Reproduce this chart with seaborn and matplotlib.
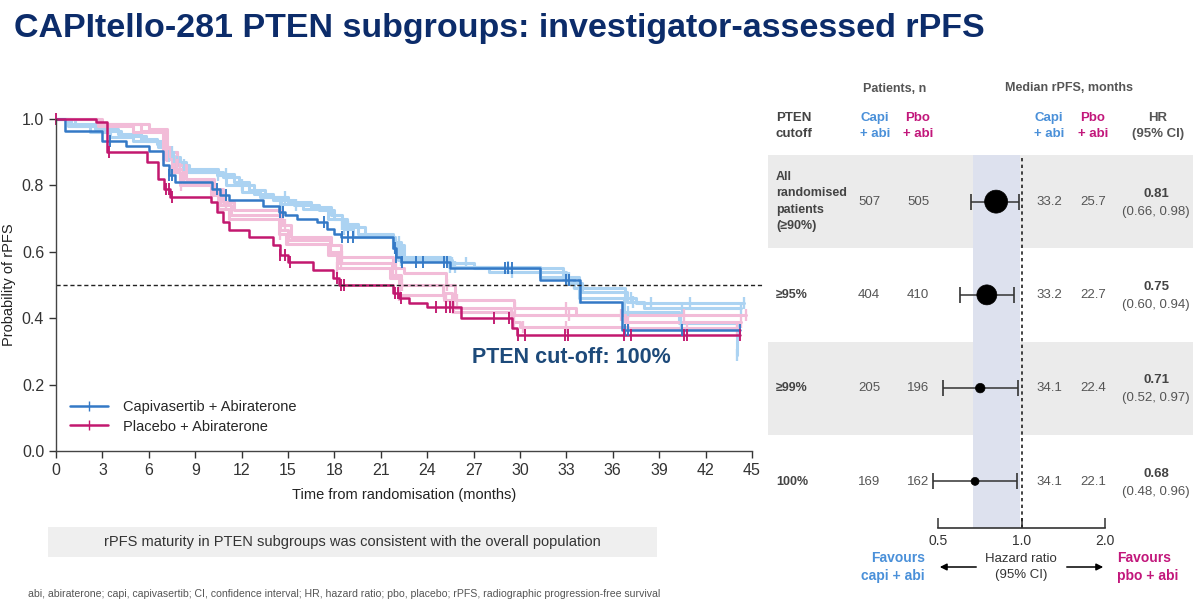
import numpy as np
import pandas as pd
import matplotlib
matplotlib.use("Agg")
import matplotlib.pyplot as plt
from matplotlib.lines import Line2D
from matplotlib.patches import Rectangle
import seaborn as sns

# ---------------- KM curves (step month, rPFS after step) ----------------
capi100_t = [0, 0.6, 3.0, 4.5, 6.0, 6.9, 7.3, 7.7, 10.1, 10.6, 11.2, 13.4, 14.4, 14.8, 15.6,
             16.9, 17.5, 18.0, 18.4, 21.8, 22.0, 22.3, 25.5, 31.3, 33.9, 36.6]
capi100_s = [1.0, 0.965, 0.935, 0.92, 0.905, 0.86, 0.83, 0.81, 0.79, 0.77, 0.755, 0.737, 0.72, 0.71, 0.70,
             0.69, 0.67, 0.655, 0.645, 0.61, 0.585, 0.57, 0.55, 0.515, 0.45, 0.365]
capi100_cens = [3.5, 7.3, 7.5, 10.4, 11.0, 14.5, 14.7, 17.3, 18.5, 18.9, 19.2, 21.9, 22.0, 22.4, 23.3,
                23.7, 25.1, 25.3, 29.0, 29.2, 29.5, 33.0, 33.2, 36.8, 37.0, 40.5, 44.2]

pbo100_t = [0, 2.6, 3.3, 5.9, 6.6, 7.0, 7.4, 10.0, 10.4, 10.8, 11.2, 12.5, 14.0, 14.5, 15.0,
            16.6, 17.9, 18.3, 21.8, 22.2, 22.8, 24.0, 26.2, 29.5, 29.8]
pbo100_s = [1.0, 0.99, 0.90, 0.87, 0.82, 0.79, 0.765, 0.75, 0.72, 0.69, 0.665, 0.645, 0.62, 0.59, 0.57,
            0.545, 0.52, 0.50, 0.475, 0.46, 0.445, 0.435, 0.40, 0.37, 0.35]
pbo100_cens = [0.0, 3.4, 7.1, 7.3, 7.5, 14.5, 14.8, 15.1, 18.2, 18.4, 18.6, 21.9, 22.1, 22.3, 24.6,
               25.2, 25.5, 25.7, 28.3, 29.3, 29.9, 30.3, 32.9, 33.1, 36.7, 37.2, 40.6, 40.8, 44.2]

capi90_t = [0, 1.0, 2.5, 4.0, 5.5, 6.5, 7.2, 7.8, 8.4, 10.5, 11.5, 12.5, 13.5, 15.0, 16.5,
            17.8, 18.5, 19.5, 21.8, 22.3, 25.5, 27.0, 32.8, 33.5, 36.8, 37.5]
capi90_s = [1.0, 0.985, 0.97, 0.955, 0.94, 0.925, 0.90, 0.87, 0.85, 0.835, 0.81, 0.785, 0.765, 0.75, 0.735,
            0.71, 0.685, 0.655, 0.63, 0.585, 0.565, 0.55, 0.52, 0.49, 0.46, 0.445]
capi90_cens = [7.5, 7.8, 8.0, 11.0, 14.8, 18.5, 21.9, 22.2, 25.6, 26.5, 33.2, 37.2, 38.5, 41.0, 44.5]

capi95_t = [0, 1.2, 2.8, 4.2, 5.8, 6.8, 7.4, 8.0, 8.6, 10.8, 11.8, 12.8, 14.0, 15.4, 17.0,
            18.0, 18.8, 20.0, 21.9, 22.5, 25.6, 28.0, 33.0, 34.0, 36.9, 38.0]
capi95_s = [1.0, 0.98, 0.965, 0.95, 0.935, 0.915, 0.885, 0.86, 0.84, 0.825, 0.80, 0.775, 0.755, 0.74, 0.725,
            0.70, 0.675, 0.645, 0.62, 0.575, 0.555, 0.54, 0.505, 0.48, 0.45, 0.43]
capi95_cens = [7.6, 8.3, 12.0, 15.5, 18.9, 22.0, 25.8, 29.5, 33.5, 37.3, 40.5, 44.3]

capi99_t = [0, 0.8, 2.2, 3.5, 5.0, 6.6, 7.0, 7.6, 8.2, 10.4, 11.0, 12.0, 13.2, 14.5, 16.0,
            17.6, 18.6, 19.2, 21.8, 22.1, 25.4, 31.3, 33.8, 36.7, 40.3, 44.0]
capi99_s = [1.0, 0.98, 0.96, 0.945, 0.935, 0.915, 0.89, 0.86, 0.84, 0.83, 0.80, 0.78, 0.765, 0.745, 0.73,
            0.70, 0.67, 0.645, 0.61, 0.575, 0.555, 0.525, 0.46, 0.42, 0.385, 0.29]
capi99_cens = [7.3, 10.5, 14.6, 18.6, 21.9, 22.3, 25.5, 29.2, 33.9, 37.0, 40.4, 44.0]

pbo90_t = [0, 3.0, 6.0, 7.2, 7.8, 8.4, 10.2, 10.8, 11.5, 14.6, 15.2, 17.8, 18.4, 21.8, 22.5,
           25.2, 25.8, 29.6, 33.6]
pbo90_s = [1.0, 0.985, 0.97, 0.90, 0.86, 0.82, 0.79, 0.75, 0.725, 0.68, 0.645, 0.62, 0.585, 0.55, 0.535,
           0.50, 0.455, 0.43, 0.41]
pbo90_cens = [7.4, 7.8, 11.0, 14.8, 18.5, 22.0, 25.3, 25.9, 29.7, 33.0, 36.5, 40.6, 44.6]

pbo95_t = [0, 2.8, 5.5, 7.0, 7.6, 8.2, 10.1, 10.6, 11.3, 14.5, 15.0, 17.7, 18.3, 21.7, 22.3,
           25.0, 25.6, 29.4, 36.8]
pbo95_s = [1.0, 0.985, 0.965, 0.89, 0.85, 0.81, 0.78, 0.74, 0.71, 0.665, 0.635, 0.60, 0.565, 0.53, 0.50,
           0.475, 0.43, 0.41, 0.39]
pbo95_cens = [7.2, 8.0, 15.0, 18.4, 22.4, 25.1, 25.7, 29.5, 33.2, 37.0, 44.3]

pbo99_t = [0, 2.7, 5.0, 6.9, 7.5, 8.0, 10.0, 10.5, 11.2, 14.4, 14.9, 17.6, 18.2, 21.6, 22.2,
           25.1, 25.7, 29.5, 30.0, 37.0]
pbo99_s = [1.0, 0.98, 0.96, 0.88, 0.84, 0.80, 0.77, 0.73, 0.70, 0.655, 0.625, 0.59, 0.55, 0.52, 0.47,
           0.455, 0.42, 0.39, 0.375, 0.37]
pbo99_cens = [7.0, 8.1, 14.5, 18.2, 22.2, 25.2, 29.6, 30.2, 33.0, 40.8, 44.0]

# last follow-up month of each curve
end_month = {"capi100": 44.2, "pbo100": 44.2, "capi90": 44.5, "capi95": 44.3,
             "capi99": 44.0, "pbo90": 44.6, "pbo95": 44.3, "pbo99": 44.0}

# ---------------- forest plot table ----------------
subgroups = ["All\nrandomised\npatients\n(≥90%)", "≥95%", "≥99%", "100%"]
n_capi = [507, 404, 205, 169]
n_pbo = [505, 410, 196, 162]
med_capi = [33.2, 33.2, 34.1, 34.1]
med_pbo = [25.7, 22.7, 22.4, 22.1]
hr = [0.81, 0.75, 0.71, 0.68]
hr_lo = [0.66, 0.60, 0.52, 0.48]
hr_hi = [0.98, 0.94, 0.97, 0.96]

# ---------------- styling ----------------
BLUE = "#3479c6"
MAGENTA = "#c2186f"
LBLUE = "#acd3f2"
LPINK = "#f2bcd8"
HDR_BLUE = "#4a90d9"
HDR_MAG = "#c2177b"
NAVY = "#0c2c6a"
marker_area = [274, 207, 47, 33]

sns.set_style("ticks")
plt.rcParams['font.family'] = ['Liberation Sans', 'DejaVu Sans']

curves = [
    ("capi90", capi90_t, capi90_s, capi90_cens, LBLUE),
    ("capi95", capi95_t, capi95_s, capi95_cens, LBLUE),
    ("capi99", capi99_t, capi99_s, capi99_cens, LBLUE),
    ("pbo90", pbo90_t, pbo90_s, pbo90_cens, LPINK),
    ("pbo95", pbo95_t, pbo95_s, pbo95_cens, LPINK),
    ("pbo99", pbo99_t, pbo99_s, pbo99_cens, LPINK),
    ("capi100", capi100_t, capi100_s, capi100_cens, BLUE),
    ("pbo100", pbo100_t, pbo100_s, pbo100_cens, MAGENTA),
]

line_rows, cens_rows = [], []
for name, t, s, cens, col in curves:
    tt = list(t) + [end_month[name]]
    ss = list(s) + [s[-1]]
    line_rows.append(pd.DataFrame({"month": tt, "prob": ss, "curve": name}))
    idx = np.searchsorted(t, cens, side="right") - 1
    cens_rows.append(pd.DataFrame({"month": cens, "prob": np.asarray(s)[idx], "curve": name}))
lines_df = pd.concat(line_rows, ignore_index=True)
cens_df = pd.concat(cens_rows, ignore_index=True)
palette = {name: col for name, _, _, _, col in curves}
light = [c[0] for c in curves[:6]]
dark = [c[0] for c in curves[6:]]

W, H = 1200, 603
fig = plt.figure(figsize=(12, 6.03), dpi=100)

# background / annotation layer in pixel coordinates
ax_bg = fig.add_axes([0, 0, 1, 1])
ax_bg.set_xlim(0, W)
ax_bg.set_ylim(H, 0)
ax_bg.axis("off")
ax_bg.set_zorder(0)

# ---------------- KM panel ----------------
ax = fig.add_axes([56 / W, 1 - 451 / H, 696 / W, 332 / H])
ax.set_zorder(1)
ax.patch.set_alpha(0)

for group, lw in ((light, 2.2), (dark, 1.8)):
    sub = lines_df[lines_df["curve"].isin(group)]
    sns.lineplot(data=sub, x="month", y="prob", hue="curve", hue_order=group, palette=palette,
                 estimator=None, sort=False, drawstyle="steps-post", linewidth=lw,
                 legend=False, ax=ax, clip_on=False)
    csub = cens_df[cens_df["curve"].isin(group)]
    for name in group:
        cc = csub[csub["curve"] == name]
        ax.plot(cc["month"], cc["prob"], ls="none", marker="|", markersize=8,
                markeredgewidth=lw * 0.75, color=palette[name], clip_on=False)

ax.axhline(0.5, xmin=0, xmax=1.015, ls=(0, (3, 2)), color="#222222", lw=1.0, clip_on=False)

ax.set_xlim(0, 45)
ax.set_ylim(0, 1.0)
ax.set_xticks(range(0, 46, 3))
ax.set_yticks([0, 0.2, 0.4, 0.6, 0.8, 1.0])
ax.set_yticklabels([f"{v:.1f}" for v in [0, 0.2, 0.4, 0.6, 0.8, 1.0]])
ax.tick_params(labelsize=11.5, colors="#333333", length=5, width=1)
for sp in ("top", "right"):
    ax.spines[sp].set_visible(False)
for sp in ("left", "bottom"):
    ax.spines[sp].set_color("#444444")
    ax.spines[sp].set_linewidth(1.0)
ax.set_xlabel("Time from randomisation (months)", fontsize=10.5, color="#222222", labelpad=7)
ax.set_ylabel("Probability of rPFS", fontsize=10.5, color="#222222", labelpad=4)

ax.text(33.3, 0.283, "PTEN cut-off: 100%", fontsize=15.5, fontweight="bold", color="#1d4a7a",
        ha="center", va="center")

handles = [Line2D([], [], color=BLUE, lw=1.8, marker="|", markersize=7),
           Line2D([], [], color=MAGENTA, lw=1.8, marker="|", markersize=7)]
ax.legend(handles, ["Capivasertib + Abiraterone", "Placebo + Abiraterone"], loc="lower left",
          bbox_to_anchor=(0.012, 0.035), borderaxespad=0, frameon=False, fontsize=10.5,
          handlelength=2.6, handletextpad=1.0, labelspacing=0.35)

# ---------------- forest panel ----------------
def row_y(i):
    return 201.7 + 93.3 * i

for i in (0, 2):
    ax_bg.add_patch(Rectangle((768, row_y(i) - 46.7), 425, 93.3, color="#ebebeb", lw=0))

axf = fig.add_axes([938 / W, 1 - 528 / H, 167 / W, 373 / H])
axf.set_zorder(1)
axf.patch.set_alpha(0)
axf.set_xscale("log")
axf.axvspan(0.67, 0.99, color="#dde1ee", lw=0, zorder=0)
axf.axvline(1.0, ls=(0, (2, 2)), color="#222222", lw=1.2, zorder=1)
rows = np.arange(len(hr))
hr_a = np.array(hr)
axf.errorbar(hr_a, rows, xerr=[hr_a - np.array(hr_lo), np.array(hr_hi) - hr_a], fmt="none",
             ecolor="#333333", elinewidth=1.1, capsize=6, capthick=1.2, clip_on=False, zorder=2)
sns.scatterplot(x=hr_a, y=rows, s=marker_area, color="black", edgecolor="black", ax=axf,
                zorder=3, clip_on=False, legend=False)
axf.set_xlim(0.5, 2.0)
axf.set_ylim(3.5, -0.5)
axf.set_xticks([0.5, 1.0, 2.0])
axf.set_xticklabels(["0.5", "1.0", "2.0"])
axf.xaxis.set_minor_locator(matplotlib.ticker.NullLocator())
axf.set_yticks([])
axf.set_xlabel("")
axf.set_ylabel("")
axf.tick_params(axis="x", direction="in", length=7, width=1.1, colors="#333333", labelsize=10, pad=4)
for sp in ("top", "right", "left"):
    axf.spines[sp].set_visible(False)
axf.spines["bottom"].set_color("#333333")
axf.spines["bottom"].set_linewidth(1.2)

# table headers
hdr = dict(fontsize=9, fontweight="bold", ha="center", va="center")
ax_bg.text(895, 89, "Patients, n", color="#555555", **hdr)
ax_bg.text(1069, 88, "Median rPFS, months", color="#555555", **hdr)
ax_bg.text(776, 126, "PTEN\ncutoff", color="#444444", fontsize=9.5, fontweight="bold",
           ha="left", va="center", linespacing=1.45, multialignment="left")
for x, lab, col in ((875, "Capi\n+ abi", HDR_BLUE), (918, "Pbo\n+ abi", HDR_MAG),
                    (1049, "Capi\n+ abi", HDR_BLUE), (1093, "Pbo\n+ abi", HDR_MAG),
                    (1158, "HR\n(95% CI)", "#555555")):
    ax_bg.text(x, 126, lab, color=col, fontsize=9.5, fontweight="bold", ha="center", va="center",
               linespacing=1.45)

val = dict(fontsize=9.5, color="#555555", ha="center", va="center")
for i, lab in enumerate(subgroups):
    y = row_y(i)
    ax_bg.text(776, y, lab, fontsize=9, fontweight="bold", color="#444444", ha="left", va="center",
               linespacing=1.5, multialignment="left")
    ax_bg.text(869, y, f"{n_capi[i]}", **val)
    ax_bg.text(918, y, f"{n_pbo[i]}", **val)
    ax_bg.text(1049, y, f"{med_capi[i]:.1f}", **val)
    ax_bg.text(1093, y, f"{med_pbo[i]:.1f}", **val)
    ax_bg.text(1156, y - 8, f"{hr[i]:.2f}", fontsize=9.5, fontweight="bold", color="#444444",
               ha="center", va="center")
    ax_bg.text(1156, y + 10, f"({hr_lo[i]:.2f}, {hr_hi[i]:.2f})", **val)

# axis caption and arrows
ax_bg.text(1021, 567, "Hazard ratio\n(95% CI)", fontsize=9.5, color="#333333", ha="center",
           va="center", linespacing=1.35)
ax_bg.text(925, 567, "Favours\ncapi + abi", fontsize=10, fontweight="bold", color=HDR_BLUE,
           ha="right", va="center", linespacing=1.35)
ax_bg.text(1117, 567, "Favours\npbo + abi", fontsize=10, fontweight="bold", color=HDR_MAG,
           ha="left", va="center", linespacing=1.35)
arrow = dict(arrowstyle="-|>", color="black", lw=1.1, mutation_scale=10)
ax_bg.annotate("", xy=(937, 567), xytext=(979, 567), arrowprops=arrow)
ax_bg.annotate("", xy=(1106, 567), xytext=(1064, 567), arrowprops=arrow)

# ---------------- title and footers ----------------
ax_bg.text(14, 29, "CAPItello-281 PTEN subgroups: investigator-assessed rPFS", fontsize=24.5,
           fontweight="bold", color=NAVY, ha="left", va="center")
ax_bg.add_patch(Rectangle((48, 527), 609, 30, color="#efefef", lw=0))
ax_bg.text(352, 542, "rPFS maturity in PTEN subgroups was consistent with the overall population",
           fontsize=10.5, color="#333333", ha="center", va="center")
ax_bg.text(28, 594, "abi, abiraterone; capi, capivasertib; CI, confidence interval; HR, hazard ratio; "
           "pbo, placebo; rPFS, radiographic progression-free survival",
           fontsize=7.6, color="#555555", ha="left", va="center")

fig.savefig("out.png", dpi=100)
